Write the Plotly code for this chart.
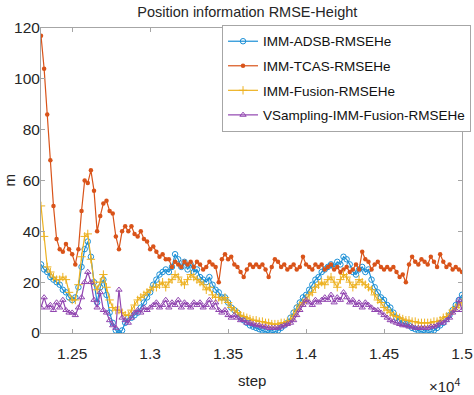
import plotly.graph_objects as go

steps = list(range(12300, 15001, 20))

adsb = [27, 25, 24, 22, 21, 20, 19, 17, 16, 14, 13, 14, 18, 26, 33, 36, 30, 20, 12, 18,
        21, 15, 8, 4, 1, 0, 1, 4, 6, 6, 7, 8, 10, 12, 14, 16, 19, 21, 23, 24,
        25, 24, 26, 31, 29, 26, 28, 25, 27, 24, 25, 22, 21, 20, 22, 19, 17, 16, 14, 14,
        12, 10, 9, 8, 6, 5, 4, 3, 2.5, 2, 1.5, 1, 0.5, 0, 0, 0.5, 1, 2, 3, 4,
        6, 8, 10, 12, 14, 15, 17, 19, 21, 22, 24, 25, 26, 27, 26, 28, 27, 30, 29, 27,
        24, 23, 25, 26, 24, 25, 21, 18, 16, 14, 13, 11, 10, 8, 6, 5, 4, 3.5, 3, 2,
        1.5, 1, 0.5, 0, 0, 0.5, 1, 2, 3, 4, 5.5, 7, 9, 11, 13, 15]

tcas = [117, 104, 86, 68, 50, 37, 33, 32, 35, 33, 31, 27, 33, 48, 60, 59, 64, 56, 40, 46,
        51, 52, 48, 47, 38, 33, 40, 42, 40, 42, 39, 38, 40, 37, 36, 33, 34, 32, 30, 31,
        29, 29, 26, 28, 27, 26, 28, 27, 28, 26, 28, 27, 25, 26, 28, 27, 26, 20, 29, 31,
        29, 30, 27, 26, 24, 22, 25, 27, 26, 27, 26, 27, 25, 22, 26, 29, 28, 26, 27, 25,
        26, 27, 25, 26, 30, 27, 26, 25, 27, 26, 27, 25, 26, 27, 25, 26, 24, 25, 26, 24,
        25, 27, 25, 32, 29, 28, 25, 27, 28, 26, 25, 26, 25, 26, 24, 22, 23, 20, 27, 30,
        28, 27, 29, 28, 27, 30, 28, 26, 31, 28, 26, 27, 25, 26, 25, 24]

fusion = [50, 38, 26, 24, 22, 21, 21, 22, 21, 16, 13, 13, 19, 30, 38, 39, 29, 20, 17, 20,
          23, 18, 13, 10, 9, 9, 8, 7, 7, 9, 11, 13, 14, 15, 16, 17, 18, 18, 19, 20,
          18, 20, 21, 23, 22, 20, 19, 21, 23, 22, 21, 20, 19, 17, 18, 15, 14, 14, 13, 14,
          12, 10, 9, 8, 7, 6.5, 6, 5.5, 5, 5, 4.5, 4.5, 4, 4, 3.5, 3.5, 3.5, 4, 4, 4.5,
          5, 7, 9, 11, 12, 13, 15, 16, 18, 19, 20, 19, 21, 22, 20, 18, 21, 23, 22, 20,
          18, 19, 21, 20, 19, 18, 17, 15, 13, 12, 10, 9, 8, 7, 6.5, 6, 5.5, 5, 5, 4.5,
          4.5, 4, 4, 4, 4, 4, 4.5, 4.5, 5, 6, 6.5, 7.5, 9, 10, 11, 12]

vsamp = [10, 14, 10, 11, 9, 12, 10, 13, 9, 8, 8, 7, 10, 14, 20, 24, 20, 13, 10, 16,
         9, 8, 5, 3, 2, 17, 6, 5, 4, 6, 8, 9, 8, 10, 9, 10, 11, 12, 10, 11,
         13, 10, 12, 11, 13, 10, 12, 11, 10, 12, 11, 12, 10, 11, 13, 10, 12, 9, 8, 9,
         7, 6, 7, 6, 5, 5, 4, 4, 3.5, 3, 3, 2.5, 2.5, 2, 2, 2, 2, 2.5, 3, 3.5,
         4, 5, 7, 9, 11, 13, 12, 11, 13, 12, 13, 14, 13, 15, 12, 14, 13, 16, 14, 12,
         13, 11, 12, 10, 12, 11, 10, 9, 9, 8, 7, 6, 5, 4.5, 4, 3.5, 3, 3, 2.5, 2.5,
         2, 2, 2, 2, 2, 2.5, 2.5, 3, 4, 4, 5, 6, 8, 9, 13, 9]

names = ["IMM-ADSB-RMSEHe", "IMM-TCAS-RMSEHe", "IMM-Fusion-RMSEHe", "VSampling-IMM-Fusion-RMSEHe"]
x_tickvals = [12500, 13000, 13500, 14000, 14500, 15000]
x_ticktext = ["1.25", "1.3", "1.35", "1.4", "1.45", "1.5"]
y_tickvals = [0, 20, 40, 60, 80, 100, 120]

FONT = "Liberation Sans, Arial, sans-serif"
TXT = "#262626"

series = [
    (adsb, names[0], "#1a8fd6", dict(symbol="circle-open", size=5.5, line=dict(width=1))),
    (tcas, names[1], "#D95319", dict(symbol="circle", size=4.5)),
    (fusion, names[2], "#EDB120", dict(symbol="cross-thin-open", size=6, line=dict(width=1, color="#EDB120"))),
    (vsamp, names[3], "#9145b0", dict(symbol="triangle-up-open", size=5.5, line=dict(width=1))),
]

fig = go.Figure()
for i, (vals, nm, col, mk) in enumerate(series):
    mk = dict(mk)
    mk["color"] = col
    fig.add_trace(go.Scatter(x=steps, y=vals, name=nm, mode="lines+markers",
                             legendgroup=f"g{i}",
                             line=dict(color=col, width=1.2), marker=mk))

axis_common = dict(showline=True, linecolor="#a6a6a6", linewidth=1, mirror="ticks",
                   ticks="inside", ticklen=4, tickcolor="#a6a6a6", showgrid=False,
                   zeroline=False, tickfont=dict(size=15.5, color=TXT, family=FONT))

fig.update_layout(
    width=474, height=395,
    margin=dict(l=41, r=12, t=28, b=62, autoexpand=False),
    paper_bgcolor="white", plot_bgcolor="white",
    font=dict(family=FONT, color=TXT),
    title=dict(text="Position information RMSE-Height", xref="paper", x=0.49, xanchor="center",
               y=1 - 12 / 395, yanchor="middle", font=dict(size=14.5, family=FONT, color=TXT)),
    xaxis=dict(range=[12300, 15000], tickvals=x_tickvals, ticktext=x_ticktext,
               ticklabelstandoff=6, **axis_common),
    yaxis=dict(range=[0, 120], tickvals=y_tickvals, ticklabelstandoff=-3, **axis_common),
    legend=dict(x=0.43, y=1.01, xanchor="left", yanchor="top",
                bordercolor="#a6a6a6", borderwidth=1, bgcolor="white",
                font=dict(size=13.5, family=FONT, color="#111"), itemwidth=30,
                traceorder="grouped", tracegroupgap=4),
    showlegend=True,
)

fig.add_annotation(text="step", xref="paper", yref="paper", x=0.5, y=(333 - 380) / 305,
                   xanchor="center", yanchor="middle", showarrow=False,
                   font=dict(size=15, family=FONT, color=TXT))
fig.add_annotation(text="m", xref="paper", yref="paper", x=(9 - 41) / 421, y=0.5,
                   xanchor="center", yanchor="middle", textangle=-90, showarrow=False,
                   font=dict(size=15, family=FONT, color=TXT))
fig.add_annotation(text="×10<sup>4</sup>", xref="paper", yref="paper", x=1.0, y=(333 - 385) / 305,
                   xanchor="right", yanchor="middle", showarrow=False,
                   font=dict(size=15, family=FONT, color=TXT))

fig.write_html("out.html", config={"displayModeBar": False},
               post_script="document.body.style.margin='0';document.body.style.overflow='hidden';")
